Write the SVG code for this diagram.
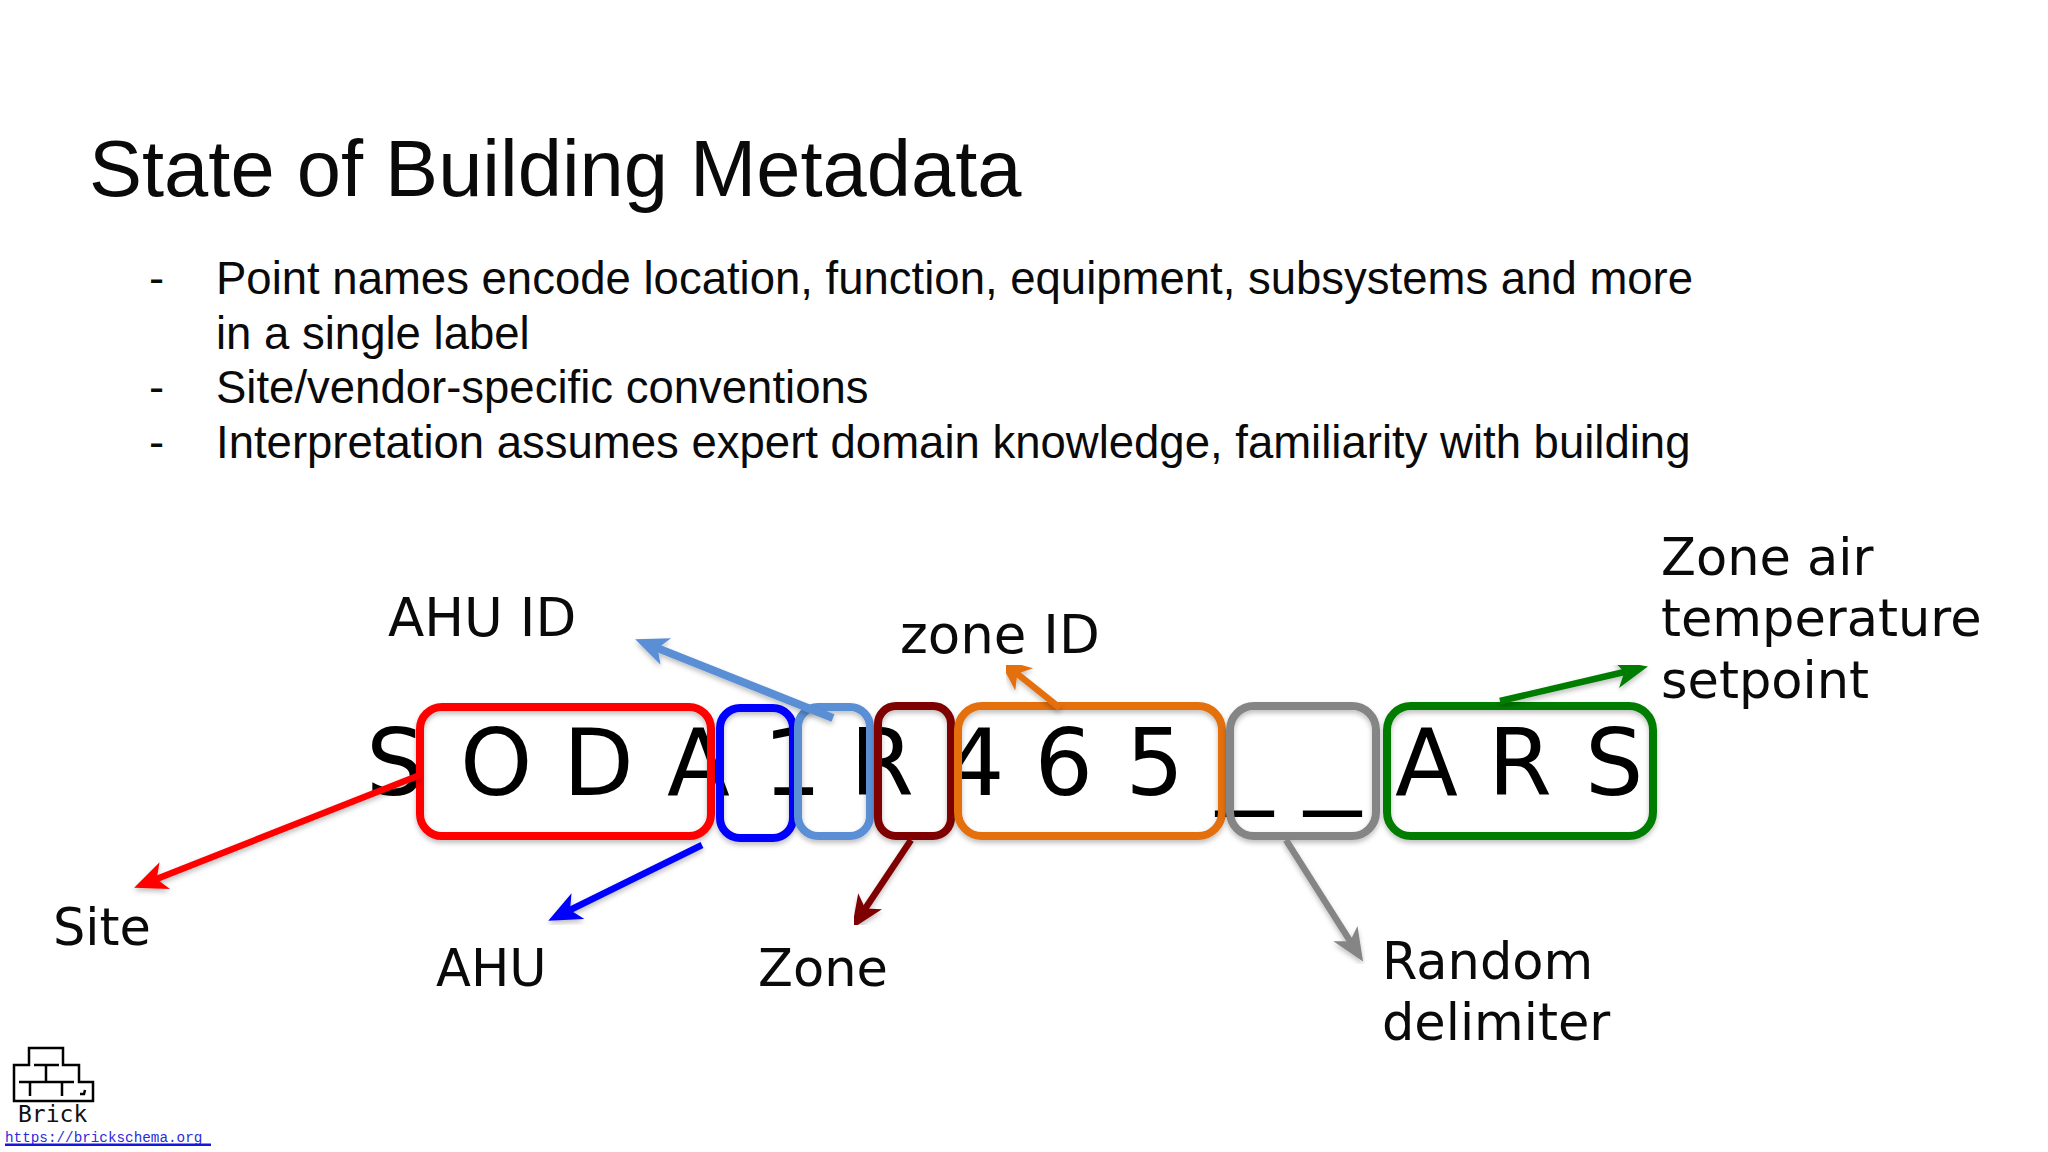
<svg xmlns="http://www.w3.org/2000/svg" width="2048" height="1152" viewBox="0 0 2048 1152">
<style>
.t{font-family:"Liberation Sans",Arial,sans-serif;fill:#0a0a0a}
.b{font-size:45.5px}
.l{font-family:"DejaVu Sans",sans-serif;font-size:51px;fill:#0a0a0a}
.w{font-size:53px}
.code{font-family:"DejaVu Sans",sans-serif;font-size:92px;fill:#000}
.box{fill:none;stroke-width:8;filter:url(#sh)}
.a{fill:none;stroke-width:6.5;filter:url(#sh)}
.r{stroke:#ff0000}.bl{stroke:#0000ff}.lb{stroke:#5a8fd6}.dr{stroke:#7f0000}.o{stroke:#e46f10}.g{stroke:#858585}.gr{stroke:#067d06}
.logo{fill:none;stroke:#000;stroke-width:2.5}
</style>
<defs>
<filter id="sh" x="-20%" y="-20%" width="140%" height="140%"><feDropShadow dx="0" dy="3" stdDeviation="2.5" flood-color="#000" flood-opacity="0.25"/></filter>
<marker id="mr" viewBox="0 0 30 26" refX="10" refY="13" markerWidth="33" markerHeight="29" markerUnits="userSpaceOnUse" orient="auto"><path d="M30,13 L0,0 L8,13 L0,26Z" fill="#ff0000"/></marker>
<marker id="mbl" viewBox="0 0 30 26" refX="10" refY="13" markerWidth="33" markerHeight="29" markerUnits="userSpaceOnUse" orient="auto"><path d="M30,13 L0,0 L8,13 L0,26Z" fill="#0000ff"/></marker>
<marker id="mlb" viewBox="0 0 30 26" refX="10" refY="13" markerWidth="33" markerHeight="29" markerUnits="userSpaceOnUse" orient="auto"><path d="M30,13 L0,0 L8,13 L0,26Z" fill="#5a8fd6"/></marker>
<marker id="mdr" viewBox="0 0 30 26" refX="10" refY="13" markerWidth="33" markerHeight="29" markerUnits="userSpaceOnUse" orient="auto"><path d="M30,13 L0,0 L8,13 L0,26Z" fill="#7f0000"/></marker>
<marker id="mo" viewBox="0 0 30 26" refX="10" refY="13" markerWidth="33" markerHeight="29" markerUnits="userSpaceOnUse" orient="auto"><path d="M30,13 L0,0 L8,13 L0,26Z" fill="#e46f10"/></marker>
<marker id="mg" viewBox="0 0 30 26" refX="10" refY="13" markerWidth="33" markerHeight="29" markerUnits="userSpaceOnUse" orient="auto"><path d="M30,13 L0,0 L8,13 L0,26Z" fill="#858585"/></marker>
<marker id="mgr" viewBox="0 0 30 26" refX="10" refY="13" markerWidth="33" markerHeight="29" markerUnits="userSpaceOnUse" orient="auto"><path d="M30,13 L0,0 L8,13 L0,26Z" fill="#067d06"/></marker>
</defs>
<rect width="2048" height="1152" fill="#fff"/>
<g id="heading">
<text class="t" x="89" y="196" font-size="79.5">State of Building Metadata</text>
<text class="t b" x="149" y="293.5">-</text><text class="t b" x="216" y="293.5">Point names encode location, function, equipment, subsystems and more</text>
<text class="t b" x="216" y="348.5">in a single label</text>
<text class="t b" x="149" y="403">-</text><text class="t b" x="216" y="403">Site/vendor-specific conventions</text>
<text class="t b" x="149" y="457.5">-</text><text class="t b" x="216" y="457.5">Interpretation assumes expert domain knowledge, familiarity with building</text>
</g>
<g id="code">
<text class="code" y="795" x="366 460 563 667 763 850 946 1034.5 1125.5">SODA1R465</text>
<text class="code" y="795" x="1216" textLength="57" lengthAdjust="spacingAndGlyphs">_</text>
<text class="code" y="795" x="1304" textLength="57" lengthAdjust="spacingAndGlyphs">_</text>
<text class="code" y="795" x="1395 1488 1585">ARS</text>
</g>
<g id="node-site"><rect class="box r" x="420" y="707" width="291" height="129" rx="22"/><text class="l" x="53" y="944.5">Site</text></g>
<g id="node-ahu"><rect class="box bl" x="720" y="708" width="73" height="130" rx="20"/><text class="l" x="436" y="985.5">AHU</text></g>
<g id="node-ahu-id"><rect class="box lb" x="798" y="707" width="72" height="129" rx="20"/><text class="l w" x="388" y="635.5">AHU ID</text></g>
<g id="node-zone"><rect class="box dr" x="878" y="706" width="73" height="130" rx="18"/><text class="l" x="758" y="985.5">Zone</text></g>
<g id="node-zone-id"><rect class="box o" x="958" y="706" width="264" height="130" rx="24"/><text class="l w" x="900" y="652.5">zone ID</text></g>
<g id="node-delimiter"><rect class="box g" x="1230" y="706" width="146" height="130" rx="24"/><text class="l" x="1382" y="979">Random</text><text class="l" x="1382" y="1040">delimiter</text></g>
<g id="node-setpoint"><rect class="box gr" x="1387" y="706" width="266" height="130" rx="24"/><text class="l" x="1661" y="575">Zone air</text><text class="l" x="1661" y="636">temperature</text><text class="l" x="1661" y="698">setpoint</text></g>
<g id="connectors">
<line class="a r" x1="420" y1="775" x2="154.6" y2="879.7" marker-end="url(#mr)"/>
<line class="a bl" x1="702" y1="845" x2="568" y2="911" marker-end="url(#mbl)"/>
<line class="a lb" stroke-width="8" style="stroke-width:8" x1="833" y1="718" x2="655.6" y2="647.4" marker-end="url(#mlb)"/>
<line class="a dr" x1="911" y1="840" x2="864" y2="910.4" marker-end="url(#mdr)"/>
<line class="a o" x1="1060" y1="708" x2="1015.6" y2="672.5" marker-end="url(#mo)"/>
<line class="a g" x1="1286" y1="840" x2="1351.3" y2="943" marker-end="url(#mg)"/>
<line class="a gr" x1="1500" y1="701" x2="1626.5" y2="671.5" marker-end="url(#mgr)"/>
</g>
<g id="brick-logo">
<path class="logo" d="M14,1065H29V1048H63V1065H79V1082H93V1101H14Z"/>
<path class="logo" stroke-width="1.8" d="M34,1065H59M46,1065V1082M19,1082H74M30,1082V1096M62,1082V1096M80,1094H84L85,1090"/>
<text x="18" y="1122" font-family="'DejaVu Sans Mono',monospace" font-size="23" fill="#111">Brick</text>
<text x="5" y="1142" font-family="'Liberation Mono',monospace" font-size="14.3" fill="#2a2ae0">https://brickschema.org</text>
<rect x="5" y="1143.5" width="206" height="2.5" fill="#1515e0"/>
</g>
</svg>
